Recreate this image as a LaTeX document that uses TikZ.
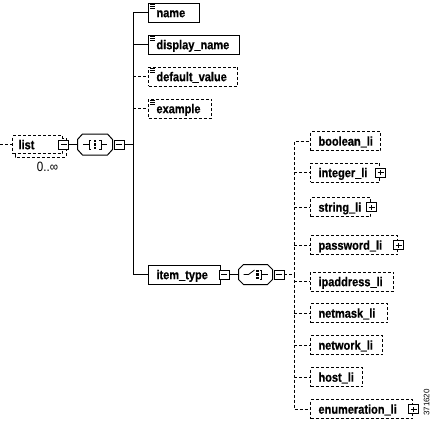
\documentclass[tikz,border=0pt]{standalone}
\usepackage{fontspec}
\setmainfont{Liberation Sans}
\newfontfamily\elfont[FakeStretch=0.86, BoldFeatures={FakeBold=0.6}]{Liberation Sans}
\usepackage{tikz}
\hyphenpenalty=10000

\begin{document}
\begin{tikzpicture}[x=1pt, y=-1pt, line width=1pt,
    elem/.style={draw, fill=white, anchor=west, minimum height=19pt, inner xsep=8pt,
                 inner ysep=0pt, align=left, text height=10.4pt, text depth=1pt,
                 font=\elfont\bfseries\fontsize{12.8}{14}\selectfont},
    optional/.style={dash pattern=on 3pt off 2pt},
    btn/.style={draw, fill=white, minimum width=10pt, minimum height=9pt, inner sep=0pt, line width=0.8pt},
    collapse/.style={btn, path picture={
        \draw ([xshift=2pt]path picture bounding box.west) -- ([xshift=-2pt]path picture bounding box.east);}},
    expand/.style={btn, path picture={
        \draw ([xshift=2pt]path picture bounding box.west) -- ([xshift=-2pt]path picture bounding box.east);
        \draw ([yshift=2pt]path picture bounding box.south) -- ([yshift=-2pt]path picture bounding box.north);}},
    compositor/.style={minimum width=34pt, minimum height=20pt, inner sep=0pt}]
    \useasboundingbox (0,0) rectangle (432,426);

    \node[elem, text width=35pt] (name) at (148,12.5) {name};
    \node[elem, text width=75pt] (dispname) at (148,44.5) {display\_name};
    \node[elem, optional, text width=73pt] (defval) at (148,76.5) {default\_value};
    \node[elem, optional, text width=47pt] (example) at (148,108.5) {example};
    \foreach \n in {name,dispname,defval,example}
        \foreach \k in {0,1.7,3.4}
            \draw[line width=0.6pt] ([shift={(2,2+\k)}]\n.north west) -- ++(5,0);

    \node[elem, optional, minimum height=18pt, inner xsep=6pt, text width=38pt] (list) at (12,144.5) {list};
    \draw[optional] ([xshift=3pt]list.south west) -- ++(0,3) -| ([shift={(3,3)}]list.north east)
        -- ([yshift=-3pt]list.north east);
    \node[collapse] (listm) at ([xshift=0.5pt]list.east) {};
    \node[font=\elfont\fontsize{13.5}{15}\selectfont] (listocc) at (47.5,167) {0..∞};

    \node[compositor] (seq) at (95,144.5) {};
    \node[collapse, anchor=west] (seqm) at ([xshift=1pt]seq.east) {};
    \node[elem, text width=56pt] (item) at (148,274.5) {item\_type};
    \node[collapse] (itemm) at ([xshift=3pt]item.east) {};
    \node[compositor, minimum width=33pt, minimum height=19pt] (choice) at (255.5,274.5) {};
    \node[collapse, anchor=west] (choicem) at ([xshift=1pt]choice.east) {};
    \foreach \n in {seq,choice}
        \draw ([yshift=5pt]\n.west) -- ([xshift=5pt]\n.north west) -- ([xshift=-5pt]\n.north east)
            -- ([yshift=5pt]\n.east) -- ([yshift=-5pt]\n.east) -- ([xshift=-5pt]\n.south east)
            -- ([xshift=5pt]\n.south west) -- ([yshift=-5pt]\n.west) -- cycle;

    % sequence and choice glyphs
    \begin{scope}[shift={(seq.center)}, line width=0.8pt]
        \draw (-12,0) -- (-6,0) (6,0) -- (12,0);
        \draw (-4,-4.5) -- (-6,-4.5) -- (-6,4.5) -- (-4,4.5);
        \draw (4,-4.5) -- (6,-4.5) -- (6,4.5) -- (4,4.5);
        \foreach \d in {-3.5,0,3.5}
            \fill (-1.2,\d-1.2) rectangle (1.2,\d+1.2);
    \end{scope}
    \begin{scope}[shift={(choice.center)}, line width=0.8pt]
        \draw (-12,0) -- (-7,0) -- (-1,-4.5);
        \draw (6,0) -- (12,0);
        \draw (4,-4.5) -- (6,-4.5) -- (6,4.5) -- (4,4.5);
        \foreach \d in {-3.5,0,3.5}
            \fill (0.8,\d-1.2) rectangle (3.2,\d+1.2);
    \end{scope}

    \node[elem, optional, text width=54pt] (boolean) at (310,141) {boolean\_li};
    \node[elem, optional, text width=53pt] (integer) at (310,172.5) {integer\_li};
    \node[elem, optional, text width=44pt] (string) at (310,207) {string\_li};
    \node[elem, optional, text width=71pt] (password) at (310,245) {password\_li};
    \node[elem, optional, text width=67pt] (ipaddress) at (310,281.5) {ipaddress\_li};
    \node[elem, optional, text width=61pt] (netmask) at (310,313) {netmask\_li};
    \node[elem, optional, text width=56pt] (network) at (310,345) {network\_li};
    \node[elem, optional, text width=36pt] (host) at (310,377) {host\_li};
    \node[elem, optional, text width=86pt] (enumeration) at (310,409) {enumeration\_li};
    \foreach \n in {integer,string,password,enumeration}
        \node[expand] (\n p) at ([shift={(0.5,0)}]\n.east) {};

    \coordinate (entry) at (0,144.5);
    \coordinate (trunk) at (133,144.5);
    \coordinate (chtrunk) at (294,274.5);

    \path[draw]
    (listm) edge (seq)
    (seqm)  edge (trunk)
    (itemm) edge (choice);
    \draw[optional] (entry) -- (list.west);
    \draw (trunk) |- (name.west);
    \draw (trunk) |- (item.west);
    \draw (trunk |- dispname.west) -- (dispname.west);
    \draw[optional] (trunk |- defval.west) -- (defval.west);
    \draw[optional] (trunk |- example.west) -- (example.west);
    \draw[optional] (choicem) -- (chtrunk);
    \draw[optional] (chtrunk) |- (boolean.west);
    \draw[optional] (chtrunk) |- (enumeration.west);
    \foreach \n in {integer,string,password,ipaddress,netmask,network,host}
        \draw[optional] (chtrunk |- \n.west) -- (\n.west);

    \node[rotate=90, font=\fontsize{8}{9}\selectfont] (fignum) at (426.5,402.5) {371620};
\end{tikzpicture}
\end{document}
